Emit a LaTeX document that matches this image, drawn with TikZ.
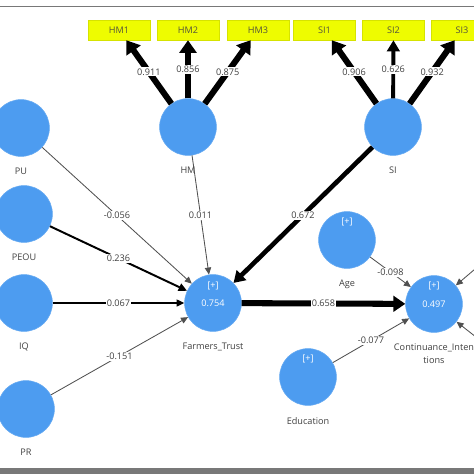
\documentclass[tikz,border=0pt]{standalone}
\usepackage{fontspec}
\setmainfont{Open Sans}
\definecolor{plsblue}{RGB}{77,156,240}
\definecolor{plsyellow}{RGB}{238,252,0}
\definecolor{plstext}{RGB}{64,64,64}
\definecolor{plsbox}{RGB}{84,84,60}
\definecolor{plsline}{RGB}{80,80,80}
\definecolor{plsframe}{RGB}{120,120,120}
\usetikzlibrary{arrows.meta,positioning}

\begin{document}
\begin{tikzpicture}[x=0.025cm, y=-0.025cm,
  lv/.style={circle, fill=plsblue, draw=plsblue!85!white, minimum size=1.42cm, inner sep=0pt, text=white, font=\fontsize{6.5}{8}\selectfont},
  lvtag/.style={text=white, inner sep=0pt, font=\fontsize{6.5}{8}\selectfont},
  lvname/.style={text=plstext, inner sep=0pt, align=center, font=\fontsize{6.5}{9}\selectfont},
  ind/.style={rectangle, fill=plsyellow, draw=plsyellow!90!black, line width=0.3pt, minimum width=1.55cm, minimum height=0.5cm, inner sep=0pt, text=plsbox, font=\fontsize{6.5}{8}\selectfont},
  coef/.style={fill=white, inner sep=0.8pt, text=plstext, font=\fontsize{6.5}{8}\selectfont},
  paththin/.style={draw=plsline, line width=0.6pt, -{Triangle[length=5pt,width=4.5pt]}},
  pathmed/.style={draw=black, line width=0.9pt, -{Triangle[length=5.5pt,width=5pt]}},
  pathbold/.style={draw=black, line width=1.4pt, -{Triangle[length=6pt,width=5.5pt]}},
  pathheavy/.style={draw=black, line width=3.3pt, -{Triangle[length=8pt,width=9.5pt]}},
  pathmax/.style={draw=black, line width=4.3pt, -{Triangle[length=8.5pt,width=11pt]}},
  loadbold/.style={draw=black, line width=4.3pt, -{Triangle[length=9pt,width=12pt]}},
  loadmed/.style={draw=black, line width=2.8pt, -{Triangle[length=8pt,width=9pt]}}]

  \useasboundingbox (0,0) rectangle (474,474);
  \clip (0,0) rectangle (474,474);

  % frame lines of the screenshot
  \draw[plsframe, line width=1.1pt] (0,6.5) -- (474,6.5);
  \fill[plsframe] (0,468) rectangle (474,474);

  % indicators
  \node[ind] (HM1) at (119,30) {HM1};
  \node[ind] (HM2) at (188,30) {HM2};
  \node[ind] (HM3) at (258,30) {HM3};
  \node[ind] (SI1) at (324.5,30) {SI1};
  \node[ind] (SI2) at (393.5,30) {SI2};
  \node[ind] (SI3) at (462,30) {SI3};

  % latent variables
  \node[lv] (PU) at (21,128) {};
  \node[lv] (PEOU) at (24,214) {};
  \node[lv] (IQ) at (24,303) {};
  \node[lv] (PR) at (26,409) {};
  \node[lv] (HM) at (188,127) {};
  \node[lv] (SI) at (393,127) {};
  \node[lv] (FT) at (213,303) {0.754};
  \node[lv] (CI) at (434,304) {0.497};
  \node[lv] (Age) at (347,240) {};
  \node[lv] (Edu) at (308,377) {};

  \node[lvtag] (FTtag) at ([yshift=0.43cm]FT.center) {[+]};
  \node[lvtag] (CItag) at ([yshift=0.45cm]CI.center) {[+]};
  \node[lvtag] (Agetag) at ([yshift=0.45cm]Age.center) {[+]};
  \node[lvtag] (Edutag) at ([yshift=0.45cm]Edu.center) {[+]};

  \node[lvname, below=7.5pt of PU] (PUname) {PU};
  \node[lvname, below=7.5pt of PEOU] (PEOUname) {PEOU};
  \node[lvname, below=7.5pt of IQ] (IQname) {IQ};
  \node[lvname, below=7.5pt of PR] (PRname) {PR};
  \node[lvname, below=7.5pt of HM] (HMname) {HM};
  \node[lvname, below=7.5pt of SI] (SIname) {SI};
  \node[lvname, below=7.5pt of Age] (Agename) {Age};
  \node[lvname, below=8pt of Edu] (Eduname) {Education};
  \node[lvname, below=8pt of FT] (FTname) {Farmers\_Trust};
  \node[lvname, below=8pt of CI] (CIname) {Continuance\_Inten\\tions};

  % ends of paths from constructs outside the view
  \coordinate (offA) at (495,252);
  \coordinate (offB) at (495,352);

  % outer loadings
  \draw[loadbold] (HM) -- node[coef] {0.911} (HM1);
  \draw[loadbold] (HM) -- node[coef] {0.856} (HM2);
  \draw[loadbold] (HM) -- node[coef] {0.875} (HM3);
  \draw[loadbold] (SI) -- node[coef] {0.906} (SI1);
  \draw[loadmed] (SI) -- node[coef] {0.626} (SI2);
  \draw[loadbold] (SI) -- node[coef] {0.932} (SI3);

  % structural paths
  \draw[paththin] (PU) -- node[coef] {-0.056} (FT);
  \draw[pathbold] (PEOU) -- node[coef] {0.236} (FT);
  \draw[pathmed] (IQ) -- node[coef] {0.067} (FT);
  \draw[paththin] (PR) -- node[coef] {-0.151} (FT);
  \draw[paththin] (HM) -- node[coef] {0.011} (FT);
  \draw[pathheavy] (SI) -- node[coef] {0.672} (FT);
  \draw[pathmax] (FT) -- node[coef] {0.658} (CI);
  \draw[paththin] (Age) -- node[coef] {-0.098} (CI);
  \draw[paththin] (Edu) -- node[coef] {-0.077} (CI);
  \draw[paththin] (offA) -- (CI);
  \draw[paththin] (offB) -- (CI);
\end{tikzpicture}
\end{document}
